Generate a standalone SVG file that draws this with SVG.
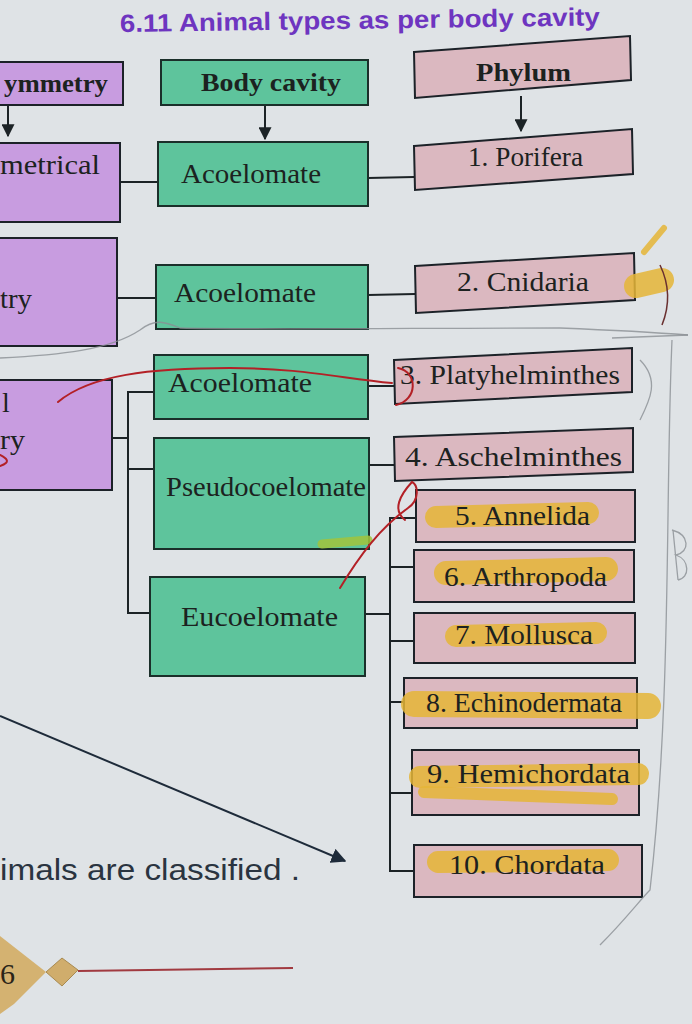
<svg xmlns="http://www.w3.org/2000/svg" width="692" height="1024" viewBox="0 0 692 1024">
<defs>
<marker id="ah" viewBox="0 0 10 10" refX="9" refY="5" markerWidth="13" markerHeight="13" orient="auto" markerUnits="userSpaceOnUse">
<path d="M0,0 L10,5 L0,10 z" fill="#1c2326"/>
</marker>
<marker id="ah2" viewBox="0 0 10 10" refX="9" refY="5" markerWidth="15" markerHeight="15" orient="auto" markerUnits="userSpaceOnUse">
<path d="M0,0 L10,5 L0,10 z" fill="#1e2b3a"/>
</marker>
</defs>
<style>
.pur{fill:#c89ce0;stroke:#1c2228;stroke-width:2}
.grn{fill:#5ec49c;stroke:#1b2f2a;stroke-width:2}
.pnk{fill:#dbb8c0;stroke:#1c2228;stroke-width:2}
.t{font-family:"Liberation Serif","Times New Roman",serif;font-size:28px;fill:#1c2220}
.h{font-family:"Liberation Serif","Times New Roman",serif;font-size:26px;font-weight:bold;fill:#1c2220}
.c{fill:none;stroke:#1c2326;stroke-width:2}
.hl{fill:none;stroke:#e5b536;stroke-linecap:round;opacity:0.85}
.red{fill:none;stroke:#b32026;stroke-width:2;stroke-linecap:round}
.pen{fill:none;stroke:#8a8f94;stroke-width:1.3;opacity:0.8}
</style>
<rect width="692" height="1024" fill="#dfe3e6"/>

<text x="120" y="32" transform="rotate(-0.8 120 32)" font-family="Liberation Sans,Arial,sans-serif" font-size="25" font-weight="bold" fill="#6e35c0" textLength="480" lengthAdjust="spacingAndGlyphs">6.11  Animal types as per body cavity</text>

<g id="connectors">
<line class="c" x1="8" y1="105" x2="8" y2="136" marker-end="url(#ah)"/>
<line class="c" x1="265" y1="105" x2="265" y2="139" marker-end="url(#ah)"/>
<line class="c" x1="521" y1="96" x2="521" y2="131" marker-end="url(#ah)"/>
<line class="c" x1="120" y1="182" x2="158" y2="182"/>
<line class="c" x1="368" y1="178" x2="414" y2="177"/>
<line class="c" x1="117" y1="298" x2="156" y2="298"/>
<line class="c" x1="368" y1="295" x2="415" y2="294"/>
<line class="c" x1="112" y1="438" x2="128" y2="438"/>
<polyline class="c" points="154,392 128,392 128,613 150,613"/>
<line class="c" x1="128" y1="469" x2="154" y2="469"/>
<line class="c" x1="368" y1="386" x2="394" y2="386"/>
<line class="c" x1="369" y1="465" x2="394" y2="465"/>
<line class="c" x1="365" y1="614" x2="390" y2="614"/>
<polyline class="c" points="416,518 390,518 390,871 414,871"/>
<line class="c" x1="390" y1="567" x2="414" y2="567"/>
<line class="c" x1="390" y1="641" x2="414" y2="641"/>
<line class="c" x1="390" y1="702" x2="404" y2="702"/>
<line class="c" x1="390" y1="793" x2="412" y2="793"/>
<line x1="0" y1="716" x2="345" y2="861" stroke="#1e2b3a" stroke-width="2" marker-end="url(#ah2)"/>
</g>

<g id="symmetry-header"><rect class="pur" x="-2" y="62" width="125" height="43"/><text class="h" x="4" y="92" textLength="104" lengthAdjust="spacingAndGlyphs">ymmetry</text></g>
<g id="sym-1"><rect class="pur" x="-2" y="143" width="122" height="79"/><text class="t" x="0" y="174" textLength="100" lengthAdjust="spacingAndGlyphs">metrical</text></g>
<g id="sym-2"><rect class="pur" x="-2" y="238" width="119" height="108"/><text class="t" x="0" y="308" textLength="32" lengthAdjust="spacingAndGlyphs">try</text></g>
<g id="sym-3"><rect class="pur" x="-2" y="380" width="114" height="110"/><text class="t" x="2" y="412">l</text><text class="t" x="0" y="449" textLength="25" lengthAdjust="spacingAndGlyphs">ry</text></g>

<g id="bodycavity-header"><rect class="grn" x="161" y="60" width="207" height="45"/><text class="h" x="201" y="91" textLength="140" lengthAdjust="spacingAndGlyphs">Body cavity</text></g>
<g id="acoel-1"><rect class="grn" x="158" y="142" width="210" height="64"/><text class="t" x="181" y="183" textLength="140" lengthAdjust="spacingAndGlyphs">Acoelomate</text></g>
<g id="acoel-2"><rect class="grn" x="156" y="265" width="212" height="64"/><text class="t" x="174" y="302" textLength="142" lengthAdjust="spacingAndGlyphs">Acoelomate</text></g>
<g id="acoel-3"><rect class="grn" x="154" y="355" width="214" height="64"/><text class="t" x="168" y="392" textLength="144" lengthAdjust="spacingAndGlyphs">Acoelomate</text></g>
<g id="pseudo"><rect class="grn" x="154" y="438" width="215" height="111"/><path d="M322,544 L368,540" stroke="#a2c43c" stroke-width="9" stroke-linecap="round" opacity="0.85"/><text class="t" x="166" y="496" textLength="200" lengthAdjust="spacingAndGlyphs">Pseudocoelomate</text></g>
<g id="euco"><rect class="grn" x="150" y="577" width="215" height="99"/><text class="t" x="181" y="626" textLength="157" lengthAdjust="spacingAndGlyphs">Eucoelomate</text></g>

<g id="phylum-header"><polygon class="pnk" points="414,52 630,36 631,80 415,98"/><text class="h" x="476" y="81" textLength="95" lengthAdjust="spacingAndGlyphs">Phylum</text></g>
<g id="porifera"><polygon class="pnk" points="414,146 632,129 633,174 415,190"/><text class="t" x="468" y="166" textLength="115" lengthAdjust="spacingAndGlyphs">1. Porifera</text></g>
<g id="cnidaria"><polygon class="pnk" points="415,266 634,253 635,300 416,313"/><path class="hl" d="M636,286 L662,280" stroke-width="24"/><text class="t" x="457" y="291" textLength="132" lengthAdjust="spacingAndGlyphs">2. Cnidaria</text></g>
<g id="platy"><polygon class="pnk" points="394,360 632,348 632,392 395,404"/><text class="t" x="400" y="384" textLength="220" lengthAdjust="spacingAndGlyphs">3. Platyhelminthes</text></g>
<g id="aschel"><polygon class="pnk" points="394,437 633,428 633,472 395,481"/><text class="t" x="405" y="466" textLength="217" lengthAdjust="spacingAndGlyphs">4. Aschelminthes</text></g>
<g id="annelida"><rect class="pnk" x="416" y="490" width="219" height="52"/><path class="hl" d="M436,517 L588,513" stroke-width="22"/><text class="t" x="455" y="525" textLength="135" lengthAdjust="spacingAndGlyphs">5. Annelida</text></g>
<g id="arthropoda"><rect class="pnk" x="414" y="550" width="220" height="52"/><path class="hl" d="M446,573 L606,569" stroke-width="24"/><text class="t" x="444" y="586" textLength="163" lengthAdjust="spacingAndGlyphs">6. Arthropoda</text></g>
<g id="mollusca"><rect class="pnk" x="414" y="613" width="221" height="50"/><path class="hl" d="M456,636 L596,633" stroke-width="22"/><text class="t" x="455" y="644" textLength="138" lengthAdjust="spacingAndGlyphs">7. Mollusca</text></g>
<g id="echino"><rect class="pnk" x="404" y="678" width="233" height="50"/><path class="hl" d="M414,704 L648,706" stroke-width="26"/><text class="t" x="426" y="712" textLength="196" lengthAdjust="spacingAndGlyphs">8. Echinodermata</text></g>
<g id="hemi"><rect class="pnk" x="412" y="750" width="227" height="65"/><path class="hl" d="M420,777 L638,774" stroke-width="22"/><path class="hl" d="M424,792 L612,799" stroke-width="12" opacity="0.6"/><text class="t" x="427" y="783" textLength="203" lengthAdjust="spacingAndGlyphs">9. Hemichordata</text></g>
<g id="chordata"><rect class="pnk" x="414" y="845" width="228" height="52"/><path class="hl" d="M438,862 L608,860" stroke-width="22"/><text class="t" x="449" y="874" textLength="156" lengthAdjust="spacingAndGlyphs">10. Chordata</text></g>

<text x="0" y="880" font-family="Liberation Sans,Arial,sans-serif" font-size="30" fill="#2a3440" textLength="300" lengthAdjust="spacingAndGlyphs">imals are classified .</text>

<g id="page-mark">
<polygon points="0,936 46,972 14,1004 0,1014" fill="#d4b271"/>
<polygon points="46,972 62,958 78,970 62,986" fill="#d0ad6c" stroke="#a88a50" stroke-width="1"/>
<text x="0" y="984" font-family="Liberation Serif,serif" font-size="30" fill="#2a2418">6</text>
<line x1="78" y1="971" x2="293" y2="968" stroke="#a13a40" stroke-width="2"/>
</g>

<g id="decor-pen">
<path class="hl" d="M644,252 L664,228" stroke-width="6"/>
<path class="red" d="M58,402 C90,375 150,368 230,368 C300,368 340,378 392,383"/>
<path class="red" d="M398,368 C418,372 418,400 396,405"/>
<path class="red" d="M0,455 C6,458 12,462 0,466"/>
<path class="red" d="M340,588 C360,555 380,528 408,508 C420,500 418,485 412,482 C400,495 392,510 405,520"/>
<path class="pen" d="M0,358 C60,355 110,350 140,330 C155,318 165,322 180,328 C260,330 420,328 560,328 C610,330 650,332 688,335"/>
<path class="pen" d="M612,338 L688,335 M672,340 C665,500 672,700 650,890 C640,900 625,920 600,945"/>
<path class="pen" d="M640,360 C660,380 650,400 640,420"/>
<path class="pen" d="M673,530 L678,580 M672,530 C690,535 690,552 676,555 C690,560 690,578 678,580"/>
<path d="M660,265 C672,290 668,310 662,325" fill="none" stroke="#6a3030" stroke-width="1.5"/>
</g>
</svg>
